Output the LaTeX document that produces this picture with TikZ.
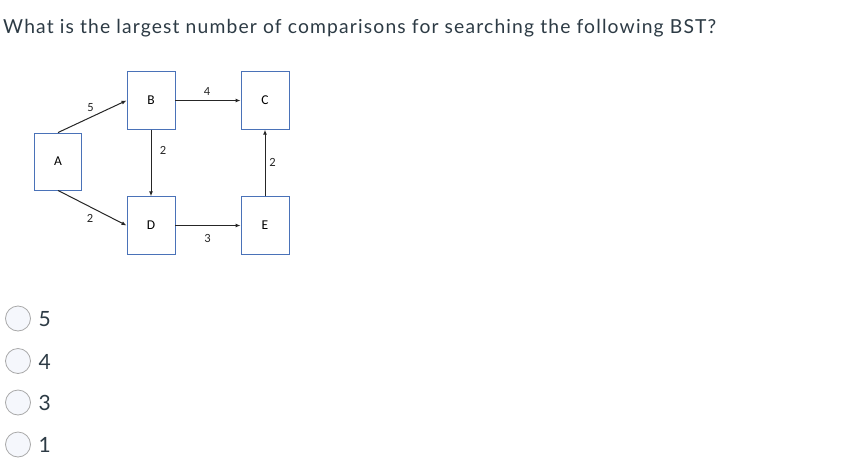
\documentclass[tikz,border=0pt]{standalone}
\usepackage{fontspec}
\setmainfont{Lato}
\newfontfamily\titlefont[LetterSpace=6]{Lato}
\newfontfamily\diafont{Carlito}
\usetikzlibrary{arrows.meta}
\definecolor{boxblue}{HTML}{4A72B8}
\definecolor{txtgray}{HTML}{2D3B45}
\definecolor{radiofill}{HTML}{F5F7FC}
\definecolor{radioedge}{HTML}{A8A8A8}
\tikzset{
  vbox/.style={draw=boxblue, line width=0.9pt, fill=white, minimum width=48pt, minimum height=57.5pt, inner sep=0pt, font=\diafont\fontsize{13.5}{14}\selectfont},
  conn/.style={draw=black!85, line width=1pt, -{Latex[length=5pt,width=4pt]}},
  wlabel/.style={font=\diafont\fontsize{12.5}{13}\selectfont, inner sep=0pt, text=black!85},
  radio/.style={circle, draw=radioedge, fill=radiofill, line width=0.8pt, minimum size=25pt, inner sep=0pt},
  opt/.style={anchor=base west, inner sep=0pt, text=txtgray, font=\fontsize{21}{24}\selectfont},
}
\begin{document}
\begin{tikzpicture}[x=1pt,y=-1pt]
\useasboundingbox[fill=white] (0,0) rectangle (867,469);
\node[anchor=base west, inner sep=0pt, text=txtgray, font=\titlefont\fontsize{19.3}{22}\selectfont] (title) at (3,33) {What is the largest number of comparisons for searching the following BST?};

\node[vbox, minimum width=47pt, minimum height=57pt] (A) at (58,161.5) {A};
\node[vbox] (B) at (151,100.5) {B};
\node[vbox] (C) at (265,100.5) {C};
\node[vbox] (D) at (151,225.5) {D};
\node[vbox] (E) at (265,225.5) {E};

\draw[conn] (A.north) -- (B.west);
\draw[conn] (A.south) -- (D.west);
\draw[conn] (B.south) -- (D.north);
\draw[conn] (B.east) -- (C.west);
\draw[conn] (D.east) -- (E.west);
\draw[conn] (E.north) -- (C.south);

\node[wlabel] (l5) at (90.5,108) {5};
\node[wlabel] (l4) at (207,91) {4};
\node[wlabel] (l2a) at (163,150) {2};
\node[wlabel] (l2b) at (90,218) {2};
\node[wlabel] (l3) at (207.5,238) {3};
\node[wlabel] (l2c) at (272.5,162.5) {2};

\node[radio] (r1) at (18,318.5) {};
\node[radio] (r2) at (18,361) {};
\node[radio] (r3) at (18,402.5) {};
\node[radio] (r4) at (18,444.5) {};
\node[opt] (o1) at (38.5,326.5) {5};
\node[opt] (o2) at (38.5,369) {4};
\node[opt] (o3) at (38.5,410.5) {3};
\node[opt] (o4) at (38.5,452.5) {1};
\end{tikzpicture}
\end{document}
